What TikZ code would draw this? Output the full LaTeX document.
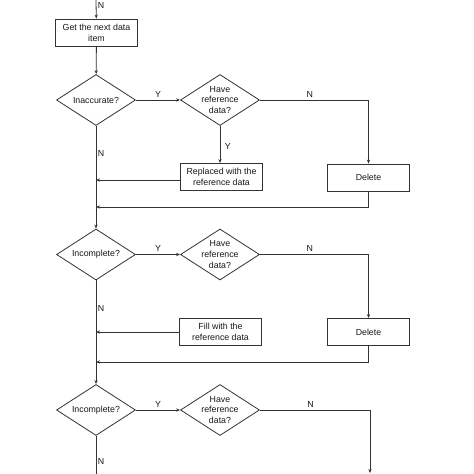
\documentclass[tikz,border=0pt]{standalone}
\usepackage{fontspec}
\setmainfont{Liberation Sans}
\usetikzlibrary{shapes.geometric,arrows.meta}
\begin{document}
\begin{tikzpicture}[x=1pt,y=-1pt,
  line width=0.8pt,
  every node/.style={font=\fontsize{8.8}{10.8}\selectfont, text=black!90},
  ln/.style={draw=black!80, line width=0.8pt},
  arr/.style={ln, -{Stealth[length=4pt,width=3.2pt]}},
  boxn/.style={draw=black!80, rectangle, minimum width=82pt, minimum height=27pt, inner sep=1pt, align=center},
  dia/.style={draw=black!80, diamond, minimum width=79pt, minimum height=51pt, inner sep=0pt},
  lbl/.style={font=\fontsize{8.8}{10.8}\selectfont, inner sep=1.5pt}
]
\useasboundingbox (0,0) rectangle (474,474);
\fill[white] (0,0) rectangle (474,474);

% block 0
\coordinate (top) at (96,0);
\node[boxn] (get) at (96.5,32.5) {Get the next data\\item};
\draw[arr] (top) -- node[lbl,right,pos=0.3]{N} (get);

% block 1
\node[dia, label={[align=center]center:Inaccurate?}] (d1) at (96,100) {};
\node[dia, label={[align=center]center:{Have\\reference\\data?}}] (d2) at (220,100) {};
\node[boxn] (rep) at (221.5,177) {Replaced with the\\reference data};
\node[boxn] (del1) at (368.5,177.5) {Delete};
\coordinate (j1a) at (96,180);
\coordinate (j1b) at (96,207);
\draw[arr] (get) -- (d1);
\draw[arr] (d1.east) -- node[lbl,above=1pt]{Y} (d2.west);
\draw[arr] (d2.east) -| node[lbl,above=1pt,pos=0.23]{N} (del1.north);
\draw[arr] (d2.south) -- node[lbl,right=3pt,pos=0.55]{Y} (d2.south |- rep.north);
\draw[arr] (rep.west |- j1a) -- (j1a);
\draw[arr] (del1.south) |- (j1b);

% block 2
\node[dia, label={[align=center]center:Incomplete?}] (d3) at (96,254.5) {};
\node[dia, label={[align=center]center:{Have\\reference\\data?}}] (d4) at (220,254.5) {};
\node[boxn] (fill) at (220.5,332) {Fill with the\\reference data};
\node[boxn] (del2) at (368.5,332) {Delete};
\coordinate (j2a) at (96,332);
\coordinate (j2b) at (96,362);
\draw[arr] (d1.south) -- node[lbl,right,pos=0.27]{N} (d3.north);
\draw[arr] (d3.east) -- node[lbl,above=1pt]{Y} (d4.west);
\draw[arr] (d4.east) -| node[lbl,above=1pt,pos=0.23]{N} (del2.north);
\draw[arr] (fill.west) -- (j2a);
\draw[arr] (del2.south) |- (j2b);

% block 3
\node[dia, label={[align=center]center:Incomplete?}] (d5) at (96,410) {};
\node[dia, label={[align=center]center:{Have\\reference\\data?}}] (d6) at (220,410) {};
\coordinate (e3) at (370,473);
\coordinate (e5) at (96,474);
\draw[arr] (d3.south) -- node[lbl,right,pos=0.27]{N} (d5.north);
\draw[arr] (d5.east) -- node[lbl,above=1pt]{Y} (d6.west);
\draw[arr] (d6.east) -| node[lbl,above=1pt,pos=0.23]{N} (e3);
\draw[ln] (d5.south) -- node[lbl,right,pos=0.68]{N} (e5);
\end{tikzpicture}
\end{document}
